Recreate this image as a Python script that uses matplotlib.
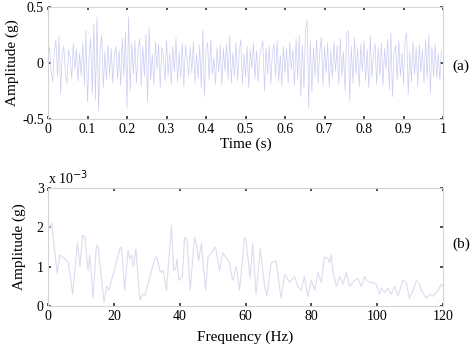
import matplotlib
matplotlib.use('Agg')
import matplotlib.pyplot as plt
import numpy as np

plt.rcParams['font.family'] = 'Liberation Serif'

### Data
# (a) time signal, one value every 4 ms, amplitude in g
time_step = 0.004
amplitude_t = [
    0.05, 0.14, -0.08, -0.17, 0.10, 0.21, -0.12, 0.24, -0.27, 0.08,
    0.15, -0.10, -0.18, 0.12, 0.05, -0.14, 0.17, -0.06, 0.13, -0.16,
    0.09, -0.12, 0.18, -0.20, 0.29, -0.35, 0.06, 0.22, -0.28, 0.35,
    -0.33, 0.41, -0.42, 0.12, 0.25, -0.22, 0.10, -0.15, 0.16, -0.11,
    0.13, -0.18, 0.07, 0.15, -0.14, 0.11, -0.20, 0.22, -0.12, 0.28,
    -0.40, 0.41, -0.25, 0.18, -0.10, 0.20, -0.18, 0.12, 0.22, -0.21,
    0.15, -0.12, 0.26, -0.35, 0.32, -0.15, 0.08, -0.20, 0.19, -0.06,
    0.17, -0.22, 0.14, 0.06, -0.16, 0.21, -0.11, 0.09, -0.19, 0.15,
    -0.08, 0.22, -0.17, 0.10, -0.13, 0.18, -0.21, 0.16, 0.04, -0.12,
    0.14, -0.09, 0.19, -0.18, 0.08, -0.14, 0.16, -0.22, 0.29, -0.30,
    0.12, 0.18, -0.15, 0.21, -0.10, 0.05, -0.19, 0.14, -0.08, 0.16,
    -0.20, 0.13, -0.07, 0.17, -0.15, 0.24, -0.18, 0.09, -0.12, 0.19,
    -0.16, 0.10, 0.21, -0.19, 0.08, -0.13, 0.15, -0.22, 0.12, -0.05,
    0.18, -0.14, 0.11, -0.17, 0.06, 0.14, 0.20, -0.25, 0.13, -0.10,
    0.16, -0.19, 0.09, 0.17, -0.12, 0.20, -0.16, 0.07, -0.21, 0.15,
    -0.09, 0.13, -0.18, 0.19, -0.06, 0.12, -0.20, 0.22, -0.15, 0.25,
    -0.30, 0.16, -0.22, 0.30, 0.38, -0.40, 0.20, -0.26, 0.14, -0.12,
    0.21, -0.18, 0.10, 0.23, -0.20, 0.15, -0.09, 0.18, -0.22, 0.12,
    -0.14, 0.19, -0.07, 0.16, -0.19, 0.22, -0.12, 0.10, -0.25, 0.26,
    0.29, -0.35, 0.15, -0.18, 0.23, -0.10, 0.14, -0.21, 0.17, -0.08,
    0.20, -0.16, 0.12, -0.22, 0.24, -0.13, 0.08, 0.17, -0.19, 0.14,
    -0.11, 0.18, -0.20, 0.13, -0.06, 0.21, -0.24, 0.27, -0.30, 0.10,
    0.16, -0.15, 0.20, -0.12, 0.09, -0.19, 0.22, 0.27, -0.28, 0.11,
    -0.17, 0.19, -0.10, 0.14, -0.21, 0.16, -0.08, 0.12, -0.18, 0.21,
    -0.14, 0.25, -0.27, 0.15, -0.12, 0.17, -0.13, 0.09, -0.15, 0.12,
]
time_s = np.arange(len(amplitude_t)) * time_step

# (b) spectrum, amplitude in units of 1e-3 g
freq_hz = [
    0.0, 1.1, 2.1, 2.8, 3.6, 5.2, 6.2, 7.5, 8.9, 9.7,
    10.5, 11.2, 12.2, 12.7, 13.7, 14.7, 15.2, 16.3, 17.0, 17.8,
    18.6, 19.3, 21.8, 22.3, 23.3, 24.3, 24.8, 25.4, 25.9, 26.7,
    27.9, 28.7, 29.4, 32.4, 33.0, 34.0, 34.5, 35.0, 35.5, 36.0,
    37.5, 38.2, 38.8, 39.2, 39.8, 40.8, 41.5, 42.2, 43.2, 44.5,
    45.0, 45.8, 46.6, 47.3, 47.9, 48.6, 49.6, 50.9, 52.1, 53.1,
    55.1, 56.1, 57.2, 58.2, 59.7, 60.2, 61.4, 62.2, 63.2, 64.5,
    65.8, 66.5, 67.8, 69.3, 70.8, 71.9, 73.4, 74.9, 75.9, 76.9,
    77.9, 78.9, 80.0, 81.0, 82.0, 83.0, 84.0, 85.0, 85.5, 86.0,
    86.5, 87.6, 88.6, 89.6, 90.6, 91.6, 93.1, 94.1, 95.2, 96.2,
    96.9, 97.7, 98.7, 99.7, 100.7, 101.2, 102.3, 103.3, 104.3, 105.3,
    106.3, 107.8, 108.8, 109.8, 110.9, 111.9, 112.9, 113.4, 114.9, 115.9,
    116.9, 118.5, 119.5, 120.0,
]
amplitude_f = [
    1.90, 2.10, 1.35, 0.83, 1.30, 1.20, 1.10, 0.30, 1.60, 1.00,
    1.80, 1.75, 0.90, 1.30, 0.20, 1.55, 1.50, 0.65, 0.10, 0.50,
    0.40, 0.65, 1.45, 1.50, 0.40, 1.40, 1.20, 1.30, 1.00, 1.45,
    0.15, 0.30, 0.25, 1.20, 1.25, 0.90, 0.85, 0.90, 0.65, 0.40,
    2.05, 0.90, 0.95, 1.20, 0.65, 0.75, 1.75, 1.70, 0.40, 1.75,
    1.60, 1.15, 1.60, 0.90, 0.40, 1.25, 1.35, 1.50, 0.90, 1.35,
    1.10, 0.65, 1.00, 0.40, 1.75, 1.65, 0.70, 1.60, 0.30, 1.45,
    0.50, 0.25, 1.10, 1.15, 0.20, 0.80, 0.60, 0.75, 0.50, 0.40,
    0.75, 0.25, 0.65, 0.40, 0.85, 0.60, 1.25, 1.20, 1.10, 1.30,
    0.90, 0.50, 0.75, 0.55, 0.85, 0.50, 0.65, 0.70, 0.50, 0.75,
    0.65, 0.60, 0.60, 0.55, 0.30, 0.45, 0.35, 0.45, 0.30, 0.50,
    0.25, 0.65, 0.60, 0.20, 0.40, 0.65, 0.55, 0.40, 0.20, 0.30,
    0.25, 0.40, 0.55, 0.50,
]

### Figure
fig = plt.figure(figsize=(4.74, 3.47), dpi=100)
ax1 = fig.add_axes([0.1013, 0.657, 0.8333, 0.3228])
ax2 = fig.add_axes([0.1013, 0.1182, 0.8333, 0.34])

for ax in (ax1, ax2):
    for sp in ax.spines.values():
        sp.set_color('#d4d4d4')
        sp.set_linewidth(0.8)
    ax.tick_params(direction='in', length=2, width=1.2, color='#303030',
                   top=True, right=True, labelsize=10, pad=3)

# (a) time signal
ax1.plot(time_s, amplitude_t, color='#ccccf2', linewidth=0.5)
ax1.set_xlim(0, 1)
ax1.set_ylim(-0.5, 0.5)
ax1.set_xticks(np.arange(0, 1.01, 0.1))
ax1.set_xticklabels(['0', '0.1', '0.2', '0.3', '0.4', '0.5', '0.6', '0.7',
                     '0.8', '0.9', '1'])
ax1.set_yticks([-0.5, 0, 0.5])
ax1.set_yticklabels(['-0.5', '0', '0.5'])
ax1.set_xlabel('Time (s)', fontsize=11, labelpad=1)
ax1.set_ylabel('Amplitude (g)', fontsize=11, labelpad=2)
fig.text(0.955, 0.81, '(a)', fontsize=11, va='center')

# (b) spectrum
ax2.plot(freq_hz, amplitude_f, color='#dcdcee', linewidth=0.8)
ax2.set_xlim(0, 120)
ax2.set_ylim(0, 3)
ax2.set_xticks([0, 20, 40, 60, 80, 100, 120])
ax2.set_yticks([0, 1, 2, 3])
ax2.set_xlabel('Frequency (Hz)', fontsize=11, labelpad=5)
ax2.set_ylabel('Amplitude (g)', fontsize=11, labelpad=8)
ax2.text(0.0, 1.01, 'x 10$^{-3}$', transform=ax2.transAxes, fontsize=10,
         va='bottom', ha='left')
fig.text(0.955, 0.295, '(b)', fontsize=11, va='center')

fig.savefig('out.png', dpi=100)
